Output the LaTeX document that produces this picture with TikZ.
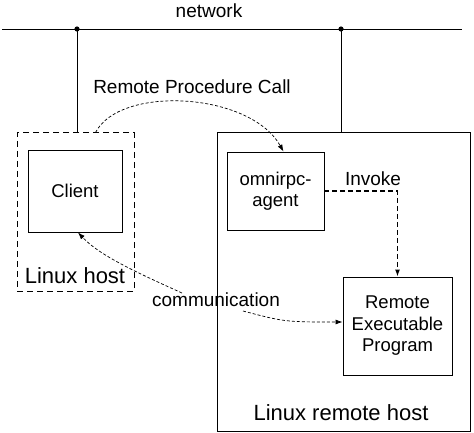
\documentclass[tikz,border=0pt]{standalone}
\usepackage{fontspec}
\setmainfont{Liberation Sans}
\usetikzlibrary{shapes.geometric, arrows.meta}

\begin{document}
\begin{tikzpicture}[x=1pt, y=-1pt, >={Latex[length=7pt,width=5pt]}, line width=0.9pt,
	box/.style={draw, align=center, inner sep=0pt, font=\fontsize{18.5}{21.5}\selectfont},
	txt/.style={font=\fontsize{19}{22}\selectfont},
	hosttxt/.style={font=\fontsize{22}{26}\selectfont},
	call/.style={->, line width=0.7pt, dash pattern=on 3pt off 2pt}]
	
	\useasboundingbox (0,0) rectangle (474,433);
	
	% the network
	\node[txt] (net) at (209,11) {network};
	\draw (2,29) -- (462,29);
	\coordinate (tap1) at (77,29);
	\coordinate (tap2) at (341,29);
	\foreach \t in {tap1,tap2}
		\fill (\t) circle (2.6);
	
	% hosts
	\node[draw, dash pattern=on 6pt off 4pt, line width=1pt, minimum width=117, minimum height=158] (host) at (75.5,212) {};
	\node[draw, line width=1pt, minimum width=253, minimum height=298] (rhost) at (343.5,282) {};
	\node[hosttxt] at (75,276) {Linux host};
	\node[hosttxt] at (341,413) {Linux remote host};
	\draw (tap1) -- (tap1 |- host.north);
	\draw (tap2) -- (tap2 |- rhost.north);
	
	% processes
	\node[box, minimum width=94, minimum height=82] (client) at (75,191) {Client};
	\node[box, minimum width=97, minimum height=78] (agent) at (275.5,191) {omnirpc-\\agent};
	\node[box, minimum width=109, minimum height=98] (rep) at (397.5,326) {Remote\\Executable\\Program};
	
	% calls
	\node[txt] (rpc) at (192,87) {Remote Procedure Call};
	\draw[call] ([xshift=20]host.north) .. controls (120,85) and (250,92) .. ([xshift=8]agent.north);
	
	\node[txt] (inv) at (373,179) {Invoke};
	\draw[->, line width=1.3pt, dash pattern=on 5pt off 3pt] (agent.east) -| (rep.north);
	
	\node[txt] (comm) at (216,300) {communication};
	\coordinate (c1) at (182,293);
	\coordinate (c2) at (243,311);
	\draw[call] (c1) .. controls (140,274) and (100,256) .. ([xshift=3]client.south);
	\draw[call] (c2) .. controls (285,322) .. ([yshift=4]rep.west);
	
\end{tikzpicture}
\end{document}
